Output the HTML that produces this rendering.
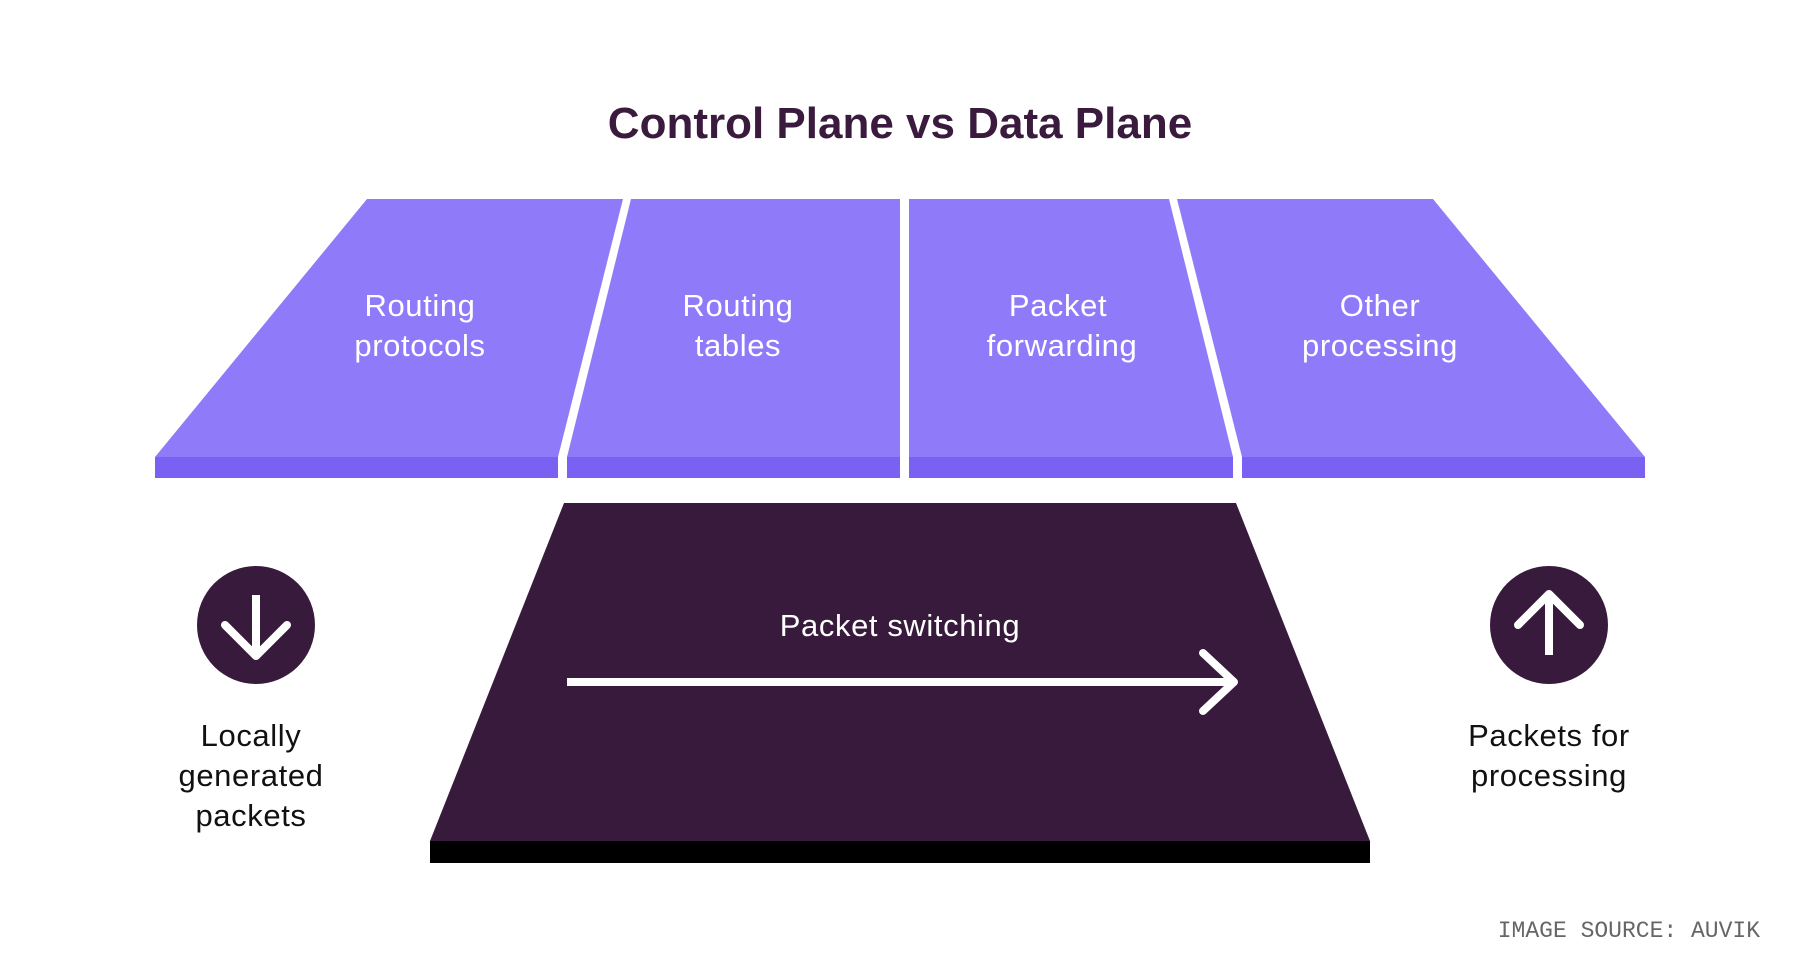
<!DOCTYPE html>
<html><head><meta charset="utf-8"><style>
html,body{margin:0;padding:0;background:#fff;}
svg{display:block;}
</style></head><body>
<svg width="1800" height="975" viewBox="0 0 1800 975" xmlns="http://www.w3.org/2000/svg">
<rect width="1800" height="975" fill="#fff"/>
<text x="900" y="138" text-anchor="middle" font-family="Liberation Sans, sans-serif" font-weight="bold" font-size="44" fill="#3a1b3e">Control Plane vs Data Plane</text>
<rect x="155" y="457" width="403" height="21" fill="#7b61f3"/>
<rect x="567" y="457" width="333" height="21" fill="#7b61f3"/>
<rect x="909" y="457" width="324" height="21" fill="#7b61f3"/>
<rect x="1242" y="457" width="403" height="21" fill="#7b61f3"/>
<polygon points="367,199 623,199 558,457 155,457" fill="#8f7af9"/>
<polygon points="631,199 900,199 900,457 567,457" fill="#8f7af9"/>
<polygon points="909,199 1169,199 1233,457 909,457" fill="#8f7af9"/>
<polygon points="1177,199 1433,199 1645,457 1242,457" fill="#8f7af9"/>
<g font-family="Liberation Sans, sans-serif" font-size="31" letter-spacing="0.6" fill="#fff" text-anchor="middle">
<text x="420" y="316">Routing</text><text x="420" y="356">protocols</text>
<text x="738" y="316">Routing</text><text x="738" y="356">tables</text>
<text x="1058" y="316">Packet</text><text x="1062" y="356">forwarding</text>
<text x="1380" y="316">Other</text><text x="1380" y="356">processing</text>
</g>
<rect x="430" y="841" width="940" height="22" fill="#000"/>
<polygon points="564,503 1236,503 1370,841 430,841" fill="#381b3c"/>
<text x="900" y="636" text-anchor="middle" font-family="Liberation Sans, sans-serif" font-size="31" letter-spacing="0.6" fill="#fff">Packet switching</text>
<line x1="567" y1="682" x2="1232" y2="682" stroke="#fff" stroke-width="8"/>
<polyline points="1203,653 1234,682 1203,711" fill="none" stroke="#fff" stroke-width="8" stroke-linecap="round" stroke-linejoin="round"/>
<circle cx="256" cy="625" r="59" fill="#381b3c"/>
<line x1="256" y1="595" x2="256" y2="655" stroke="#fff" stroke-width="8"/>
<polyline points="225,625 256,656 287,625" fill="none" stroke="#fff" stroke-width="8" stroke-linecap="round" stroke-linejoin="round"/>
<circle cx="1549" cy="625" r="59" fill="#381b3c"/>
<line x1="1549" y1="655" x2="1549" y2="595" stroke="#fff" stroke-width="8"/>
<polyline points="1518,625 1549,594 1580,625" fill="none" stroke="#fff" stroke-width="8" stroke-linecap="round" stroke-linejoin="round"/>
<g font-family="Liberation Sans, sans-serif" font-size="31" letter-spacing="0.6" fill="#111" text-anchor="middle">
<text x="251" y="746">Locally</text><text x="251" y="786">generated</text><text x="251" y="826">packets</text>
<text x="1549" y="746">Packets for</text><text x="1549" y="786">processing</text>
</g>
<text x="1760" y="937" text-anchor="end" font-family="Liberation Mono, monospace" font-size="23" fill="#666">IMAGE SOURCE: AUVIK</text>
</svg>
</body></html>
